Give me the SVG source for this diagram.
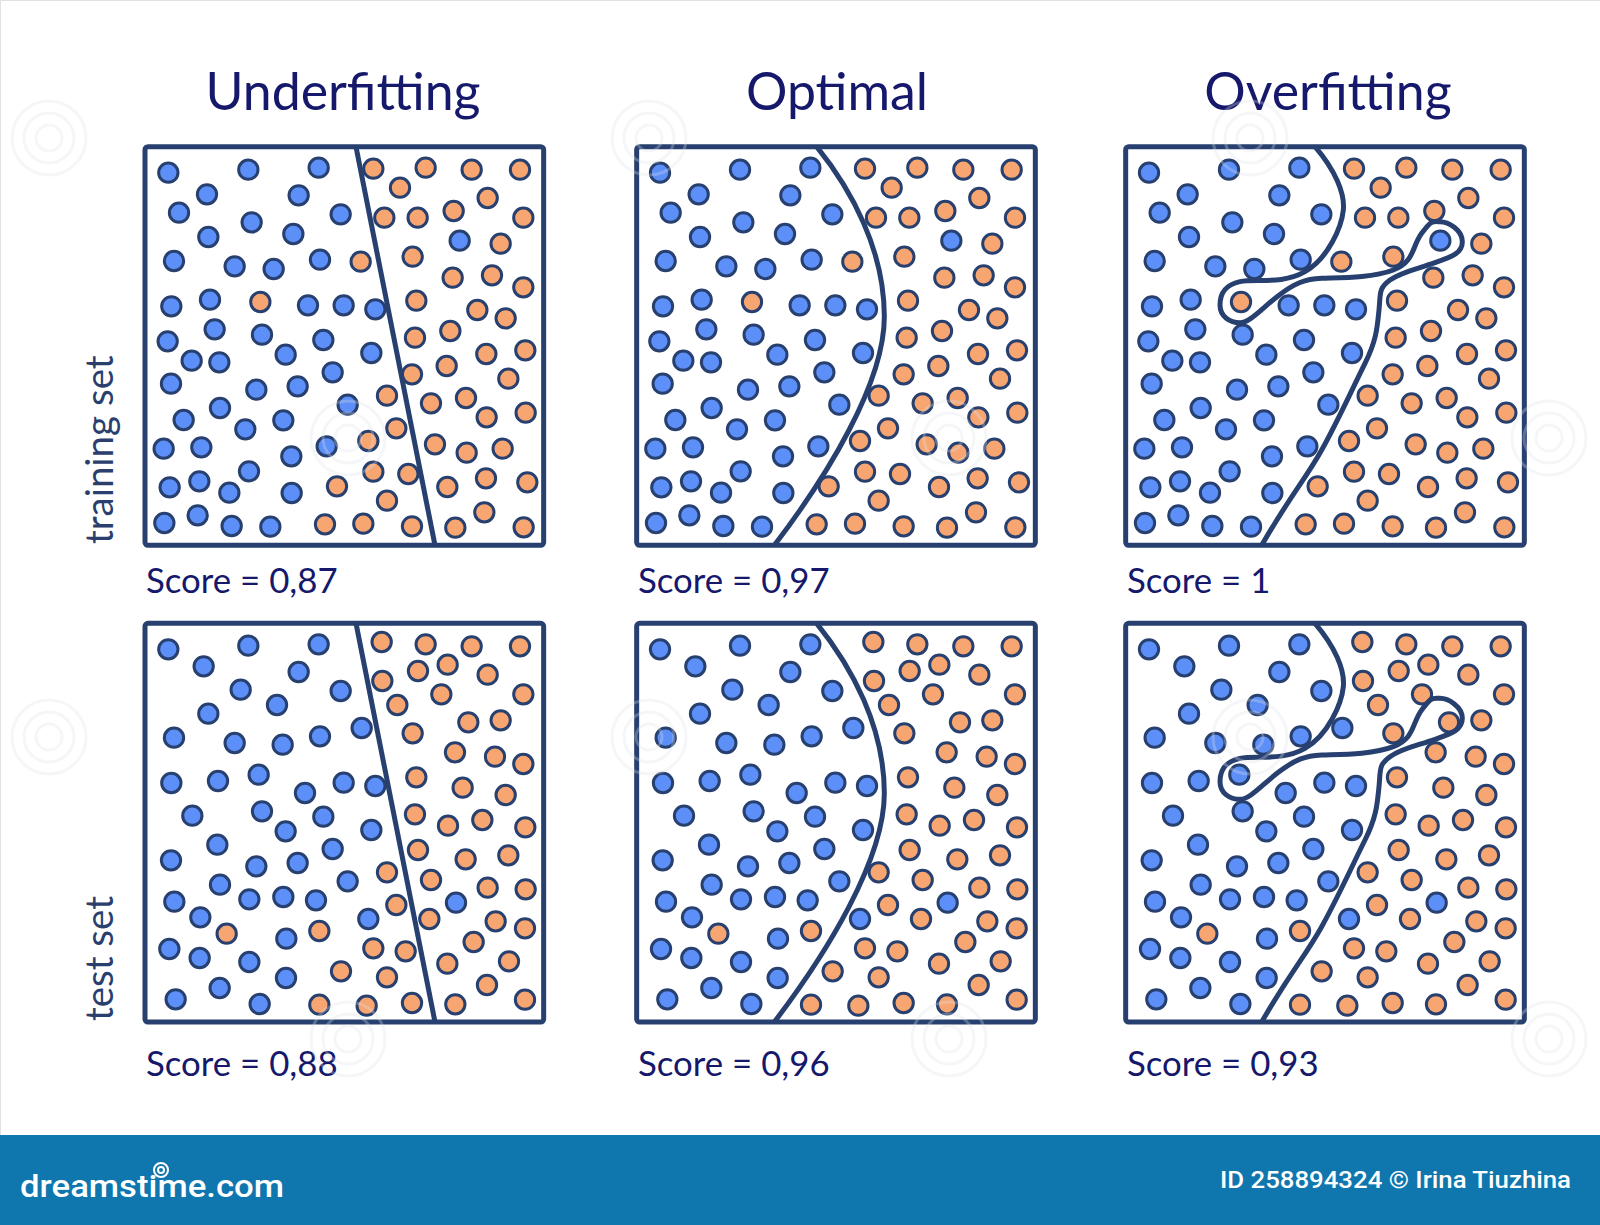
<svg xmlns="http://www.w3.org/2000/svg" xmlns:xlink="http://www.w3.org/1999/xlink" width="1600" height="1225" viewBox="0 0 1600 1225">
<style>
.t{font-family:Lato,"Liberation Sans",sans-serif;fill:#15186b}
.title{font-size:51.8px;text-anchor:middle}
.score{font-size:34.8px}
.side{font-size:38.5px;fill:#2a3f6e}
.frame{fill:#fff;stroke:#27406f;stroke-width:15}
.curve{fill:none;stroke:#27406f;stroke-width:15;stroke-linecap:butt;stroke-linejoin:round}
.b,.o{r:29px;stroke:#27406f;stroke-width:9}
.b{fill:#5c8ff7}
.o{fill:#f8a671}
.wm circle{fill:none;stroke:#dde2e8;stroke-width:3;opacity:.3}
.foot{font-family:Roboto,"Liberation Sans",sans-serif;fill:#fff}
</style>
<defs>
<g id="train-dots">
<circle class="b" cx="115" cy="128"/><circle class="b" cx="355" cy="119"/><circle class="b" cx="566" cy="113"/><circle class="b" cx="231" cy="193"/><circle class="b" cx="506" cy="196"/><circle class="b" cx="147" cy="248"/><circle class="b" cx="632" cy="253"/><circle class="b" cx="365" cy="277"/><circle class="b" cx="490" cy="312"/><circle class="b" cx="235" cy="321"/><circle class="b" cx="132" cy="393"/><circle class="b" cx="314" cy="409"/><circle class="b" cx="431" cy="417"/><circle class="b" cx="570" cy="389"/><circle class="b" cx="124" cy="529"/><circle class="b" cx="240" cy="509"/><circle class="b" cx="534" cy="526"/><circle class="b" cx="641" cy="526"/><circle class="b" cx="736" cy="538"/><circle class="b" cx="254" cy="598"/><circle class="b" cx="396" cy="614"/><circle class="b" cx="113" cy="634"/><circle class="b" cx="580" cy="630"/><circle class="b" cx="185" cy="692"/><circle class="b" cx="268" cy="697"/><circle class="b" cx="467" cy="674"/><circle class="b" cx="724" cy="669"/><circle class="b" cx="608" cy="727"/><circle class="b" cx="123" cy="761"/><circle class="b" cx="379" cy="779"/><circle class="b" cx="503" cy="769"/><circle class="b" cx="653" cy="824"/><circle class="b" cx="270" cy="834"/><circle class="b" cx="161" cy="870"/><circle class="b" cx="346" cy="898"/><circle class="b" cx="460" cy="871"/><circle class="b" cx="101" cy="956"/><circle class="b" cx="214" cy="952"/><circle class="b" cx="590" cy="949"/><circle class="b" cx="484" cy="979"/><circle class="b" cx="357" cy="1024"/><circle class="b" cx="119" cy="1072"/><circle class="b" cx="208" cy="1054"/><circle class="b" cx="298" cy="1088"/><circle class="b" cx="485" cy="1089"/><circle class="b" cx="103" cy="1179"/><circle class="b" cx="203" cy="1156"/><circle class="b" cx="305" cy="1188"/><circle class="b" cx="421" cy="1190"/><circle class="b" cx="989" cy="332"/>
<circle class="o" cx="730" cy="116"/><circle class="o" cx="887" cy="113"/><circle class="o" cx="1025" cy="119"/><circle class="o" cx="1170" cy="119"/><circle class="o" cx="810" cy="173"/><circle class="o" cx="1073" cy="204"/><circle class="o" cx="763" cy="263"/><circle class="o" cx="863" cy="263"/><circle class="o" cx="971" cy="243"/><circle class="o" cx="1180" cy="263"/><circle class="o" cx="1112" cy="341"/><circle class="o" cx="692" cy="395"/><circle class="o" cx="848" cy="380"/><circle class="o" cx="968" cy="443"/><circle class="o" cx="1086" cy="436"/><circle class="o" cx="1180" cy="472"/><circle class="o" cx="391" cy="516"/><circle class="o" cx="859" cy="512"/><circle class="o" cx="1042" cy="540"/><circle class="o" cx="1127" cy="565"/><circle class="o" cx="855" cy="623"/><circle class="o" cx="961" cy="603"/><circle class="o" cx="1069" cy="672"/><circle class="o" cx="1186" cy="661"/><circle class="o" cx="846" cy="733"/><circle class="o" cx="950" cy="708"/><circle class="o" cx="1135" cy="746"/><circle class="o" cx="771" cy="797"/><circle class="o" cx="903" cy="820"/><circle class="o" cx="1008" cy="804"/><circle class="o" cx="1070" cy="862"/><circle class="o" cx="1187" cy="848"/><circle class="o" cx="799" cy="895"/><circle class="o" cx="715" cy="933"/><circle class="o" cx="915" cy="943"/><circle class="o" cx="1010" cy="968"/><circle class="o" cx="1118" cy="956"/><circle class="o" cx="730" cy="1025"/><circle class="o" cx="835" cy="1032"/><circle class="o" cx="621" cy="1069"/><circle class="o" cx="952" cy="1071"/><circle class="o" cx="1068" cy="1045"/><circle class="o" cx="1192" cy="1057"/><circle class="o" cx="771" cy="1112"/><circle class="o" cx="1063" cy="1147"/><circle class="o" cx="585" cy="1183"/><circle class="o" cx="700" cy="1181"/><circle class="o" cx="846" cy="1189"/><circle class="o" cx="976" cy="1193"/><circle class="o" cx="1181" cy="1192"/>
</g>
<g id="test-dots">
<circle class="b" cx="115" cy="118"/><circle class="b" cx="355" cy="107"/><circle class="b" cx="566" cy="103"/><circle class="b" cx="221" cy="169"/><circle class="b" cx="506" cy="186"/><circle class="b" cx="332" cy="239"/><circle class="b" cx="632" cy="243"/><circle class="b" cx="441" cy="285"/><circle class="b" cx="235" cy="311"/><circle class="b" cx="132" cy="383"/><circle class="b" cx="314" cy="399"/><circle class="b" cx="458" cy="404"/><circle class="b" cx="570" cy="379"/><circle class="b" cx="695" cy="354"/><circle class="b" cx="124" cy="519"/><circle class="b" cx="264" cy="513"/><circle class="b" cx="386" cy="494"/><circle class="b" cx="525" cy="549"/><circle class="b" cx="641" cy="518"/><circle class="b" cx="736" cy="528"/><circle class="b" cx="187" cy="617"/><circle class="b" cx="396" cy="604"/><circle class="b" cx="580" cy="620"/><circle class="b" cx="467" cy="664"/><circle class="b" cx="724" cy="660"/><circle class="b" cx="262" cy="704"/><circle class="b" cx="608" cy="717"/><circle class="b" cx="123" cy="751"/><circle class="b" cx="379" cy="769"/><circle class="b" cx="503" cy="759"/><circle class="b" cx="653" cy="814"/><circle class="b" cx="270" cy="824"/><circle class="b" cx="133" cy="875"/><circle class="b" cx="358" cy="868"/><circle class="b" cx="460" cy="861"/><circle class="b" cx="558" cy="871"/><circle class="b" cx="211" cy="922"/><circle class="b" cx="715" cy="927"/><circle class="b" cx="978" cy="878"/><circle class="b" cx="469" cy="986"/><circle class="b" cx="118" cy="1017"/><circle class="b" cx="209" cy="1044"/><circle class="b" cx="358" cy="1056"/><circle class="b" cx="468" cy="1104"/><circle class="b" cx="269" cy="1134"/><circle class="b" cx="137" cy="1168"/><circle class="b" cx="389" cy="1182"/>
<circle class="o" cx="755" cy="96"/><circle class="o" cx="887" cy="103"/><circle class="o" cx="1025" cy="109"/><circle class="o" cx="1170" cy="109"/><circle class="o" cx="864" cy="183"/><circle class="o" cx="953" cy="164"/><circle class="o" cx="1073" cy="194"/><circle class="o" cx="757" cy="213"/><circle class="o" cx="934" cy="253"/><circle class="o" cx="1180" cy="253"/><circle class="o" cx="802" cy="285"/><circle class="o" cx="1015" cy="337"/><circle class="o" cx="1112" cy="331"/><circle class="o" cx="848" cy="370"/><circle class="o" cx="975" cy="427"/><circle class="o" cx="1095" cy="440"/><circle class="o" cx="1180" cy="462"/><circle class="o" cx="859" cy="502"/><circle class="o" cx="998" cy="533"/><circle class="o" cx="1127" cy="555"/><circle class="o" cx="855" cy="613"/><circle class="o" cx="954" cy="647"/><circle class="o" cx="1057" cy="630"/><circle class="o" cx="1186" cy="652"/><circle class="o" cx="864" cy="720"/><circle class="o" cx="1007" cy="748"/><circle class="o" cx="1135" cy="736"/><circle class="o" cx="771" cy="787"/><circle class="o" cx="903" cy="810"/><circle class="o" cx="1073" cy="833"/><circle class="o" cx="1187" cy="838"/><circle class="o" cx="799" cy="885"/><circle class="o" cx="898" cy="927"/><circle class="o" cx="1097" cy="934"/><circle class="o" cx="1185" cy="955"/><circle class="o" cx="290" cy="971"/><circle class="o" cx="568" cy="963"/><circle class="o" cx="1031" cy="996"/><circle class="o" cx="730" cy="1015"/><circle class="o" cx="827" cy="1024"/><circle class="o" cx="952" cy="1061"/><circle class="o" cx="1137" cy="1054"/><circle class="o" cx="633" cy="1084"/><circle class="o" cx="771" cy="1102"/><circle class="o" cx="1071" cy="1125"/><circle class="o" cx="568" cy="1184"/><circle class="o" cx="710" cy="1187"/><circle class="o" cx="846" cy="1179"/><circle class="o" cx="976" cy="1183"/><circle class="o" cx="1185" cy="1169"/>
</g>
<path id="under" class="curve" d="M678 50L915 1246"/>
<path id="optimal" class="curve" d="M585 50C690 180 788 360 788 560C788 760 615 1040 458 1246"/>
<path id="over" class="curve" d="M600 50C660 120 690 190 685 240S640 385 570 425S420 445 375 455S315 490 315 525S345 578 375 578S440 535 490 497S570 447 620 445S770 445 835 420S890 350 920 310S950 275 975 275S1042 300 1042 335S1010 380 960 398S860 425 825 450S797 490 792 540S785 630 750 700S670 870 620 960S530 1090 440 1246"/>
<g id="wm" class="wm"><circle r="37"/><circle r="25"/><circle r="13"/></g>
</defs>
<rect width="1600" height="1225" fill="#fff"/>
<path d="M.5 1135V.5H1600" fill="none" stroke="#e2e2e2"/>
<text class="t title" x="343" y="110">Underfitting</text>
<text class="t title" x="837" y="110">Optimal</text>
<text class="t title" x="1328" y="110">Overfitting</text>
<text class="t side" transform="translate(113 544) rotate(-90)">training set</text>
<text class="t side" transform="translate(113 1021) rotate(-90)">test set</text>
<g id="panel-train-underfitting" transform="translate(130 130) scale(.33333)"><rect class="frame" x="45" y="50" width="1196" height="1196" rx="9"/><use href="#train-dots"/><use href="#under"/></g>
<g id="panel-train-optimal" transform="translate(621.67 130) scale(.33333)"><rect class="frame" x="45" y="50" width="1196" height="1196" rx="9"/><use href="#train-dots"/><use href="#optimal"/></g>
<g id="panel-train-overfitting" transform="translate(1110.67 130) scale(.33333)"><rect class="frame" x="45" y="50" width="1196" height="1196" rx="9"/><use href="#train-dots"/><use href="#over" x="13"/></g>
<g id="panel-test-underfitting" transform="translate(130 610) scale(.33333)"><rect class="frame" x="45" y="40" width="1196" height="1196" rx="9"/><use href="#test-dots"/><use href="#under" y="-10"/></g>
<g id="panel-test-optimal" transform="translate(621.67 610) scale(.33333)"><rect class="frame" x="45" y="40" width="1196" height="1196" rx="9"/><use href="#test-dots"/><use href="#optimal" y="-10"/></g>
<g id="panel-test-overfitting" transform="translate(1110.67 610) scale(.33333)"><rect class="frame" x="45" y="40" width="1196" height="1196" rx="9"/><use href="#test-dots"/><use href="#over" x="13" y="-10"/></g>
<text class="t score" x="146" y="593">Score = 0,87</text>
<text class="t score" x="638" y="593">Score = 0,97</text>
<text class="t score" x="1127" y="593">Score = 1</text>
<text class="t score" x="146" y="1076">Score = 0,88</text>
<text class="t score" x="638" y="1076">Score = 0,96</text>
<text class="t score" x="1127" y="1076">Score = 0,93</text>
<g id="watermarks">
<use href="#wm" x="49" y="138"/><use href="#wm" x="649" y="138"/><use href="#wm" x="1250" y="138"/>
<use href="#wm" x="348" y="438"/><use href="#wm" x="949" y="438"/><use href="#wm" x="1549" y="438"/>
<use href="#wm" x="49" y="737"/><use href="#wm" x="649" y="737"/><use href="#wm" x="1250" y="737"/>
<use href="#wm" x="348" y="1039"/><use href="#wm" x="949" y="1039"/><use href="#wm" x="1549" y="1039"/>
</g>
<g id="footer">
<rect y="1135" width="1600" height="90" fill="#1076ae"/>
<text class="foot" x="20" y="1197" font-size="32" font-weight="500" textLength="264" lengthAdjust="spacingAndGlyphs">dreamstime.com</text>
<g fill="none" stroke="#fff" stroke-width="2"><circle cx="161" cy="1170" r="7"/><circle cx="161" cy="1170" r="3"/></g>
<text class="foot" x="1220" y="1188" font-size="23.5" font-weight="500" textLength="351" lengthAdjust="spacingAndGlyphs">ID 258894324 © Irina Tiuzhina</text>
</g>
</svg>
